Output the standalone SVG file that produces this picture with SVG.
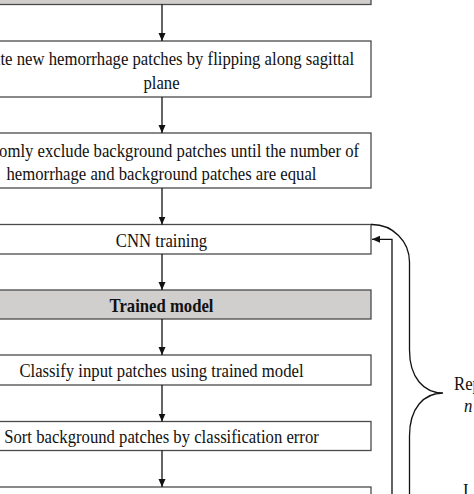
<svg xmlns="http://www.w3.org/2000/svg" width="474" height="494" viewBox="0 0 474 494">
<style>
.box{fill:#ffffff;stroke:#4a4a4a;stroke-width:1.3}
.gray{fill:#d1cece}
.t{font-family:"Liberation Serif","Times New Roman",serif;font-size:16.7px;fill:#111;text-anchor:middle}
.b{font-weight:bold}
.side{font-family:"Liberation Serif","Times New Roman",serif;font-size:16.7px;fill:#111}
.ln{fill:none;stroke:#111;stroke-width:1.3}
</style>
<defs>
<marker id="ah" markerUnits="userSpaceOnUse" markerWidth="9" markerHeight="8" refX="8" refY="3.5" orient="auto">
<path d="M0,0 L8,3.5 L0,7 Z" fill="#111"/>
</marker>
</defs>
<rect width="474" height="494" fill="#ffffff"/>
<g id="node-top"><rect class="box gray" x="-50" y="-40" width="421" height="44.5"/></g>
<g id="node-flip"><rect class="box" x="-50" y="41" width="421" height="56"/>
<text class="t" transform="translate(161.5,65) scale(1,1.18)">Create new hemorrhage patches by flipping along sagittal</text>
<text class="t" transform="translate(161.5,88.5) scale(1,1.18)">plane</text></g>
<g id="node-exclude"><rect class="box" x="-50" y="133" width="421" height="55"/>
<text class="t" transform="translate(161.5,156.5) scale(1,1.18)">Randomly exclude background patches until the number of</text>
<text class="t" transform="translate(161.5,180) scale(1,1.18)">hemorrhage and background patches are equal</text></g>
<g id="node-cnn"><rect class="box" x="-50" y="224.5" width="421" height="29.5"/>
<text class="t" transform="translate(161.5,246.5) scale(1,1.18)">CNN training</text></g>
<g id="node-trained"><rect class="box gray" x="-50" y="290" width="421" height="29"/>
<text class="t b" transform="translate(161.5,311.5) scale(1,1.18)">Trained model</text></g>
<g id="node-classify"><rect class="box" x="-50" y="355" width="421" height="30"/>
<text class="t" transform="translate(161.5,377) scale(1,1.18)">Classify input patches using trained model</text></g>
<g id="node-sort"><rect class="box" x="-50" y="421.5" width="421" height="29"/>
<text class="t" transform="translate(161.5,443) scale(1,1.18)">Sort background patches by classification error</text></g>
<g id="node-bottom"><rect class="box" x="-50" y="487" width="421" height="50"/></g>
<g id="connectors">
<line class="ln" x1="162" y1="4.5" x2="162" y2="41" marker-end="url(#ah)"/>
<line class="ln" x1="162" y1="97" x2="162" y2="133" marker-end="url(#ah)"/>
<line class="ln" x1="162" y1="188" x2="162" y2="224.5" marker-end="url(#ah)"/>
<line class="ln" x1="162" y1="254" x2="162" y2="290" marker-end="url(#ah)"/>
<line class="ln" x1="162" y1="319" x2="162" y2="355" marker-end="url(#ah)"/>
<line class="ln" x1="162" y1="385" x2="162" y2="421.5" marker-end="url(#ah)"/>
<line class="ln" x1="162" y1="450.5" x2="162" y2="487" marker-end="url(#ah)"/>
<path class="ln" d="M392,500 V239.3 H372" marker-end="url(#ah)"/>
</g>
<g id="brace">
<path class="ln" d="M371,224.5 H372 A37.5,37.5 0 0 1 409.5,262 V350 C409.5,378 424,393 443,393 C424,393 409.5,408 409.5,436 V500"/>
<text class="side" transform="translate(454,390) scale(1,1.18)">Rep</text>
<text class="side" transform="translate(464,411.5) scale(1,1.18)" font-style="italic">n</text>
<text class="side" transform="translate(463,497) scale(1,1.18)">I</text>
</g>
</svg>
